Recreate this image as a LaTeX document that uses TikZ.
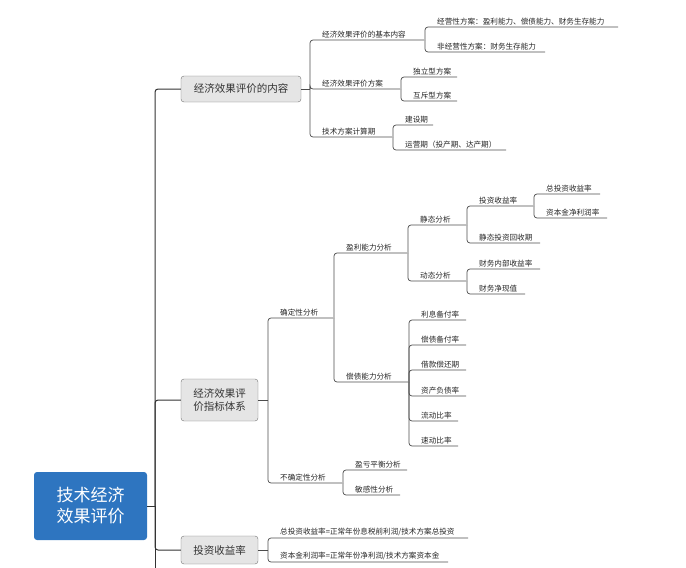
\documentclass[tikz,border=0pt]{standalone}
\usepackage{fontspec}
\newfontfamily\cjk{Noto Sans CJK SC}
\begin{document}
\begin{tikzpicture}[x=1pt,y=-1pt,
  ln/.style={draw=black!70,line width=0.7pt,rounded corners=3pt},
  lab/.style={font=\cjk\fontsize{7.6}{9}\selectfont,inner sep=1pt,anchor=south west,text=black!85},
  l1/.style={draw=black!55,fill=black!10,rounded corners=3pt,font=\cjk\fontsize{10.5}{13}\selectfont,align=center,text=black!80,inner sep=0pt}]
\useasboundingbox (0,0) rectangle (686,568);
\newcommand\kid[6]{\draw[ln] (#1,#2) |- (#4,#3); \node[lab] (#6) at (#1+11,#3-1) {#5};}
% root
\node[fill=blue!55!cyan!70!black!90,fill=none] at (0,0) {};
\node[fill={rgb,255:red,46;green,117;blue,192},rounded corners=3pt,minimum width=113pt,minimum height=68pt,text=white,font=\cjk\fontsize{17}{21}\selectfont,align=center,inner sep=0pt] (root) at (90.5,506) {技术经济\\效果评价};
% level 1
\node[l1,minimum width=120pt,minimum height=26pt] (b1) at (241,89) {经济效果评价的内容};
\node[l1,minimum width=77pt,minimum height=42pt] (b2) at (219.5,400) {经济效果评\\价指标体系};
\node[l1,minimum width=77pt,minimum height=28pt] (b3) at (219.5,550) {投资收益率};
\draw[line width=1pt,black!80] (root.east) -- (155,506) coordinate (tr);
\draw[line width=1pt,black!80,rounded corners=3pt] (tr) |- (b1.west);
\draw[line width=1pt,black!80,rounded corners=3pt] (tr) |- (b2.west);
\draw[line width=1pt,black!80,rounded corners=3pt] (tr) |- (b3.west);
\draw[line width=1pt,black!80] (tr) -- (155,575);
% b1
\draw[ln] (b1.east) -- (310,89);
\kid{310}{89}{40}{424}{经济效果评价的基本内容}{a1}
\kid{310}{89}{89}{400}{经济效果评价方案}{a2}
\kid{310}{89}{137}{392}{技术方案计算期}{a3}
\kid{425}{40}{27}{618}{经营性方案：盈利能力、偿债能力、财务生存能力}{a11}
\kid{425}{40}{52}{545}{非经营性方案：财务生存能力}{a12}
\kid{401}{89}{77}{457}{独立型方案}{a21}
\kid{401}{89}{101}{457}{互斥型方案}{a22}
\kid{393}{137}{125}{433}{建设期}{a31}
\kid{393}{137}{150}{506}{运营期（投产期、达产期）}{a32}
% b2
\draw[ln] (b2.east) -- (268,400);
\kid{268}{400}{318}{333}{确定性分析}{c1}
\kid{268}{400}{483}{342}{不确定性分析}{c2}
\kid{334}{318}{253}{407}{盈利能力分析}{c11}
\kid{334}{318}{382}{408}{偿债能力分析}{c12}
\kid{408}{253}{225}{466}{静态分析}{c111}
\kid{408}{253}{281}{466}{动态分析}{c112}
\kid{467}{225}{206}{533}{投资收益率}{d1}
\kid{467}{225}{243}{540}{静态投资回收期}{d2}
\kid{534}{206}{194}{600}{总投资收益率}{d11}
\kid{534}{206}{218}{607}{资本金净利润率}{d12}
\kid{467}{281}{269}{540}{财务内部收益率}{d3}
\kid{467}{281}{294}{525}{财务净现值}{d4}
\kid{409}{382}{320}{466}{利息备付率}{e1}
\kid{409}{382}{345}{466}{偿债备付率}{e2}
\kid{409}{382}{370}{466}{借款偿还期}{e3}
\kid{409}{382}{396}{466}{资产负债率}{e4}
\kid{409}{382}{421}{458}{流动比率}{e5}
\kid{409}{382}{446}{458}{速动比率}{e6}
\kid{343}{483}{470}{407}{盈亏平衡分析}{f1}
\kid{343}{483}{495}{400}{敏感性分析}{f2}
% b3
\draw[ln] (b3.east) -- (268,550);
\kid{268}{550}{538}{468}{总投资收益率=正常年份息税前利润/技术方案总投资}{g1}
\kid{268}{550}{562}{448}{资本金利润率=正常年份净利润/技术方案资本金}{g2}
\end{tikzpicture}
\end{document}
